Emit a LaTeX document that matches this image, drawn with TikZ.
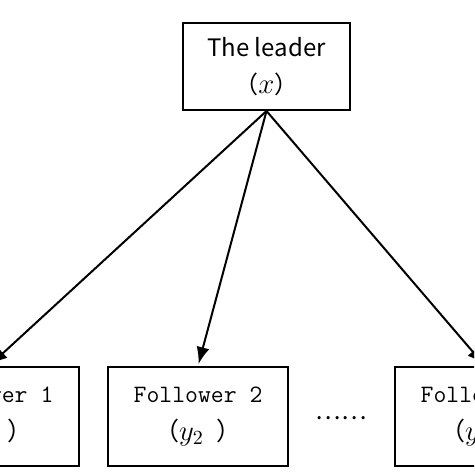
\documentclass[tikz,border=0pt]{standalone}
\usepackage{fontspec}
\usepackage{amsmath}
\newfontfamily\cjk{Noto Sans CJK SC}
\newfontfamily\monofol{Latin Modern Mono}
\newcommand{\var}[1]{{\fontsize{14.5}{14.5}\selectfont$#1$}}
\usetikzlibrary{arrows, arrows.meta}

\begin{document}
\begin{tikzpicture}[x=0.5pt, y=-0.5pt,
    leaderbox/.style={draw, line width=1pt, minimum width=83.5pt, minimum height=43.5pt, inner sep=0pt, align=center, font=\cjk\fontsize{12}{18.5}\selectfont},
    followerbox/.style={draw, line width=1pt, minimum width=90pt, minimum height=49.5pt, inner sep=0pt, align=center, font=\monofol\fontsize{12.5}{19}\selectfont},
    link/.style={-{Latex[length=8.5pt, width=6.5pt]}, line width=1pt, shorten >=1pt}]
    \useasboundingbox (0,0) rectangle (474,474);
    \clip (0,0) rectangle (474,474);

    \node[leaderbox] (leader) at (266.5,66.5) {The leader\\{\cjk（}\var{x}{\cjk）}};
    \node[followerbox] (f1) at (-11,416.5) {Follower 1\\{\cjk（}\var{y_1} {\cjk）}};
    \node[followerbox] (f2) at (198,416.5) {Follower 2\\{\cjk（}\var{y_2} {\cjk）}};
    \node[followerbox] (fn) at (485,416.5) {Follower n\\{\cjk（}\var{y_n} {\cjk）}};
    \node[font=\cjk\fontsize{12}{12}\selectfont] (dots) at (341,418) {……};

    \draw[link] (leader.south) -- (f1.north);
    \draw[link] (leader.south) -- (f2.north);
    \draw[link] (leader.south) -- (fn.north);
  \end{tikzpicture}
\end{document}
